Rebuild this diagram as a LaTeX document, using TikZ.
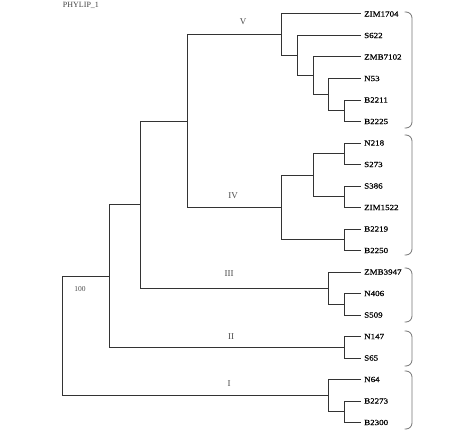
\documentclass[tikz,border=0pt]{standalone}
\usepackage{fontspec}
\setmainfont{Liberation Serif}
\newfontfamily\leaffont[FakeStretch=1.15,FakeBold=0.6]{Liberation Serif}
\begin{document}
\begin{tikzpicture}[x=1pt,y=-1pt,line cap=rect,line join=miter,
    branch/.style={draw=black!80,line width=1pt},
    leaf/.style={anchor=west,inner xsep=4pt,inner ysep=0pt,font=\leaffont\fontsize{7.8}{9}\selectfont},
    clade/.style={text=black!70,font=\fontsize{9}{10}\selectfont},
    group/.style={draw=black!55,line width=0.8pt,rounded corners=6pt}]
  \useasboundingbox (0,0) rectangle (474,436);
  \node[text=black!75,font=\fontsize{8}{9}\selectfont] (title) at (81,5) {PHYLIP\_1};
  % leaves
  \node[leaf] (zim1704) at (360,14)    {ZIM1704};
  \node[leaf] (s622)    at (360,35.5)  {S622};
  \node[leaf] (zmb7102) at (360,57)    {ZMB7102};
  \node[leaf] (n53)     at (360,78.5)  {N53};
  \node[leaf] (b2211)   at (360,100)   {B2211};
  \node[leaf] (b2225)   at (360,121.5) {B2225};
  \node[leaf] (n218)    at (360,143)   {N218};
  \node[leaf] (s273)    at (360,164.5) {S273};
  \node[leaf] (s386)    at (360,186)   {S386};
  \node[leaf] (zim1522) at (360,207.5) {ZIM1522};
  \node[leaf] (b2219)   at (360,229)   {B2219};
  \node[leaf] (b2250)   at (360,250.5) {B2250};
  \node[leaf] (zmb3947) at (360,272)   {ZMB3947};
  \node[leaf] (n406)    at (360,293.5) {N406};
  \node[leaf] (s509)    at (360,315)   {S509};
  \node[leaf] (n147)    at (360,336.5) {N147};
  \node[leaf] (s65)     at (360,358)   {S65};
  \node[leaf] (n64)     at (360,379.5) {N64};
  \node[leaf] (b2273)   at (360,401)   {B2273};
  \node[leaf] (b2300)   at (360,422.5) {B2300};
  % internal nodes
  \coordinate (a5) at (344,110.75);
  \coordinate (a4) at (328,94.6);
  \coordinate (a3) at (313,75.8);
  \coordinate (a2) at (297,55.7);
  \coordinate (cV) at (281,34.8);
  \coordinate (b1) at (344,153.75);
  \coordinate (b2) at (344,196.75);
  \coordinate (b3) at (313,175.25);
  \coordinate (b4) at (344,239.75);
  \coordinate (cIV) at (281,207.5);
  \coordinate (cVIV) at (187,121.2);
  \coordinate (d1) at (344,304.25);
  \coordinate (cIII) at (328,288.1);
  \coordinate (e) at (140,204.7);
  \coordinate (cII) at (344,347.25);
  \coordinate (f) at (109,276);
  \coordinate (g1) at (344,411.75);
  \coordinate (cI) at (328,395.6);
  \coordinate (root) at (62,335.8);
  % branches
  \draw[branch] (a5) |- (b2211.west) (a5) |- (b2225.west);
  \draw[branch] (a4) |- (n53.west) (a4) |- (a5);
  \draw[branch] (a3) |- (zmb7102.west) (a3) |- (a4);
  \draw[branch] (a2) |- (s622.west) (a2) |- (a3);
  \draw[branch] (cV) |- (zim1704.west) (cV) |- (a2);
  \draw[branch] (b1) |- (n218.west) (b1) |- (s273.west);
  \draw[branch] (b2) |- (s386.west) (b2) |- (zim1522.west);
  \draw[branch] (b3) |- (b1) (b3) |- (b2);
  \draw[branch] (b4) |- (b2219.west) (b4) |- (b2250.west);
  \draw[branch] (cIV) |- (b3) (cIV) |- (b4);
  \draw[branch] (cVIV) |- (cV) (cVIV) |- (cIV);
  \draw[branch] (d1) |- (n406.west) (d1) |- (s509.west);
  \draw[branch] (cIII) |- (zmb3947.west) (cIII) |- (d1);
  \draw[branch] (e) |- (cVIV) (e) |- (cIII);
  \draw[branch] (cII) |- (n147.west) (cII) |- (s65.west);
  \draw[branch] (f) |- (e) (f) |- (cII);
  \draw[branch] (g1) |- (b2273.west) (g1) |- (b2300.west);
  \draw[branch] (cI) |- (n64.west) (cI) |- (g1);
  \draw[branch] (root) |- (f) (root) |- (cI);
  % labels
  \node[clade] (lV)   at (243,22)  {V};
  \node[clade] (lIV)  at (233,196) {IV};
  \node[clade] (lIII) at (229,274) {III};
  \node[clade] (lII)  at (231,337) {II};
  \node[clade] (lI)   at (229,384) {I};
  \node[text=black!70,font=\fontsize{7.5}{9}\selectfont] (boot) at (80,289) {100};
  % brackets
  \draw[group] (405,12)  -- (412,12)  -- (412,128) -- (405,128);
  \draw[group] (405,135) -- (412,135) -- (412,255) -- (405,255);
  \draw[group] (405,268) -- (412,268) -- (412,322) -- (405,322);
  \draw[group] (405,331) -- (412,331) -- (412,366) -- (405,366);
  \draw[group] (405,371) -- (412,371) -- (412,429) -- (405,429);
\end{tikzpicture}
\end{document}
